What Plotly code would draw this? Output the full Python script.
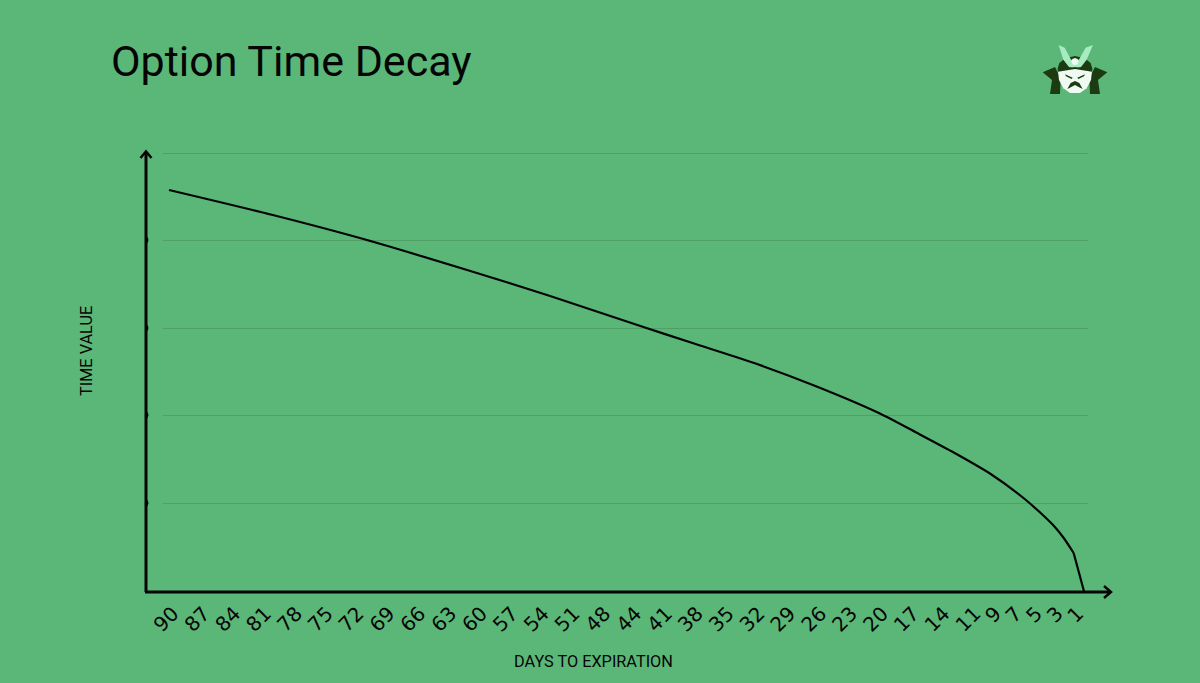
import plotly.graph_objects as go

# Chart data
day_labels = [90, 87, 84, 81, 78, 75, 72, 69, 66, 63, 60, 57, 54, 51, 48,
              44, 41, 38, 35, 32, 29, 26, 23, 20, 17, 14, 11, 9, 7, 5, 3, 1]
day_rows = [0, 3, 6, 9, 12, 15, 18, 21, 24, 27, 30, 33, 36, 39, 42,
            45, 48, 51, 54, 57, 60, 63, 66, 69, 72, 75, 78, 80, 82, 84, 86, 88]
curve_rows = [0, 10, 19, 29, 37, 46, 51, 57, 63, 69, 73, 76, 80, 83, 85, 86, 87, 88]
curve_values = [4.578, 4.295, 4.015, 3.664, 3.370, 3.019, 2.828, 2.599, 2.335, 2.035,
                1.790, 1.602, 1.330, 1.073, 0.868, 0.753, 0.611, 0.434]
final_rows = [88, 89]
final_values = [0.434, 0.0]
y_ticks = [0, 1, 2, 3, 4, 5]

W, H = 1200, 683
BG = "#5bb777"
INK = "#050505"
DARK = "#1d3b12"
LIGHT = "#a6ecc0"
WHITE = "#eefaf2"
ROW_PX = 10.28


def X(p):
    return p / W


def Y(p):
    return 1 - p / H


def path(points, close=True):
    s = "M " + " L ".join(f"{X(a):.5f},{Y(b):.5f}" for a, b in points)
    return s + (" Z" if close else "")


def logo(points):
    return [(1030 + a / 3, 35 + b / 3) for a, b in points]


def shape(points, fill=None, line=None, width=0, close=True):
    return dict(type="path", xref="paper", yref="paper", layer="above",
                path=path(points, close),
                fillcolor=fill if fill else "rgba(0,0,0,0)",
                line=dict(color=line if line else "rgba(0,0,0,0)", width=width))


shapes = []
# axes with arrowheads
shapes.append(shape([(146, 592), (146, 152)], line=INK, width=3, close=False))
shapes.append(shape([(145, 592), (1110, 592)], line=INK, width=3, close=False))
shapes.append(shape([(140.5, 158), (146, 151.5), (151.5, 158)], line=INK, width=2.5, close=False))
shapes.append(shape([(1104, 586), (1111, 592), (1104, 598)], line=INK, width=2.5, close=False))
for gy in (240, 328, 415, 503):
    shapes.append(shape([(147, gy - 3), (148.3, gy), (147, gy + 3)], fill=INK, line=INK, width=0.5))

# logo: wings, helmet, horns, crest, face, moustache
shapes.append(shape(logo([(38, 112), (75, 96), (92, 130), (90, 177), (60, 177), (66, 135)]), fill=DARK))
shapes.append(shape(logo([(232, 112), (195, 96), (178, 130), (180, 177), (210, 177), (204, 135)]), fill=DARK))
shapes.append(shape(logo([(82, 104), (88, 84), (106, 70), (135, 63), (164, 70), (182, 84), (188, 104), (135, 108)]), fill=DARK))
shapes.append(shape(logo([(86, 30), (104, 38), (122, 72), (135, 84), (148, 72), (167, 38), (189, 30), (170, 74),
                          (153, 96), (135, 100), (117, 96), (100, 74)]), fill=LIGHT))
shapes.append(shape(logo([(124, 80), (127, 72), (135, 69), (143, 72), (146, 80), (143, 88), (135, 91), (127, 88)]), fill=WHITE))
shapes.append(shape(logo([(84, 107), (135, 98), (186, 107), (183, 135), (170, 160), (150, 174), (120, 174), (100, 160), (87, 135)]), fill=WHITE))
shapes.append(shape(logo([(84, 104), (135, 96), (186, 104), (186, 110), (135, 102), (84, 110)]), fill=DARK))
shapes.append(shape(logo([(105, 118), (128, 128), (125, 132), (108, 124)]), fill=DARK))
shapes.append(shape(logo([(165, 118), (142, 128), (145, 132), (162, 124)]), fill=DARK))
shapes.append(shape(logo([(135, 138), (148, 144), (158, 162), (146, 156), (135, 150), (124, 156), (112, 162), (122, 144)]), fill=DARK))

fig = go.Figure()
fig.add_trace(go.Scatter(x=curve_rows, y=curve_values, mode="lines",
                         line=dict(color=INK, width=2.2, shape="spline", smoothing=0.8),
                         hoverinfo="skip", showlegend=False))
fig.add_trace(go.Scatter(x=final_rows, y=final_values, mode="lines",
                         line=dict(color=INK, width=2.2), hoverinfo="skip", showlegend=False))

fig.update_layout(
    width=W,
    height=H,
    autosize=False,
    margin=dict(l=0, r=0, t=0, b=0, pad=0),
    paper_bgcolor=BG,
    plot_bgcolor=BG,
    shapes=shapes,
    title=dict(text="Option Time Decay", x=111 / W, xanchor="left", xref="paper",
               y=Y(61), yanchor="middle", yref="paper", automargin=False,
               font=dict(family="Roboto", size=43, color=INK)),
    xaxis=dict(domain=[163 / W, 1088 / W], automargin=False,
               range=[(163 - 169) / ROW_PX, (1088 - 169) / ROW_PX],
               tickmode="array", tickvals=day_rows, ticktext=[str(d) for d in day_labels],
               tickangle=-45, ticks="", showgrid=False, zeroline=False, showline=False,
               ticklabelstandoff=6, ticklabelshift=4,
               tickfont=dict(family="DejaVu Sans", size=20, color=INK)),
    yaxis=dict(domain=[Y(591), Y(145)], range=[0, 446 / 87.6], automargin=False,
               tickmode="array", tickvals=y_ticks, showticklabels=False, ticks="",
               showgrid=True, gridcolor="rgba(0,0,0,0.13)", gridwidth=1,
               zeroline=False, showline=False),
    annotations=[
        dict(text="DAYS TO EXPIRATION", xref="paper", yref="paper", x=X(593), y=Y(661),
             showarrow=False, font=dict(family="Roboto", size=16.3, color=INK),
             xanchor="center", yanchor="middle"),
        dict(text="TIME VALUE", xref="paper", yref="paper", x=X(86), y=Y(351), textangle=-90,
             showarrow=False, font=dict(family="Roboto", size=16.3, color=INK),
             xanchor="center", yanchor="middle"),
    ],
)

fig.write_html("out.html", config=dict(displayModeBar=False),
               post_script="document.documentElement.style.margin='0';document.body.style.margin='0';document.body.style.overflow='hidden';")
